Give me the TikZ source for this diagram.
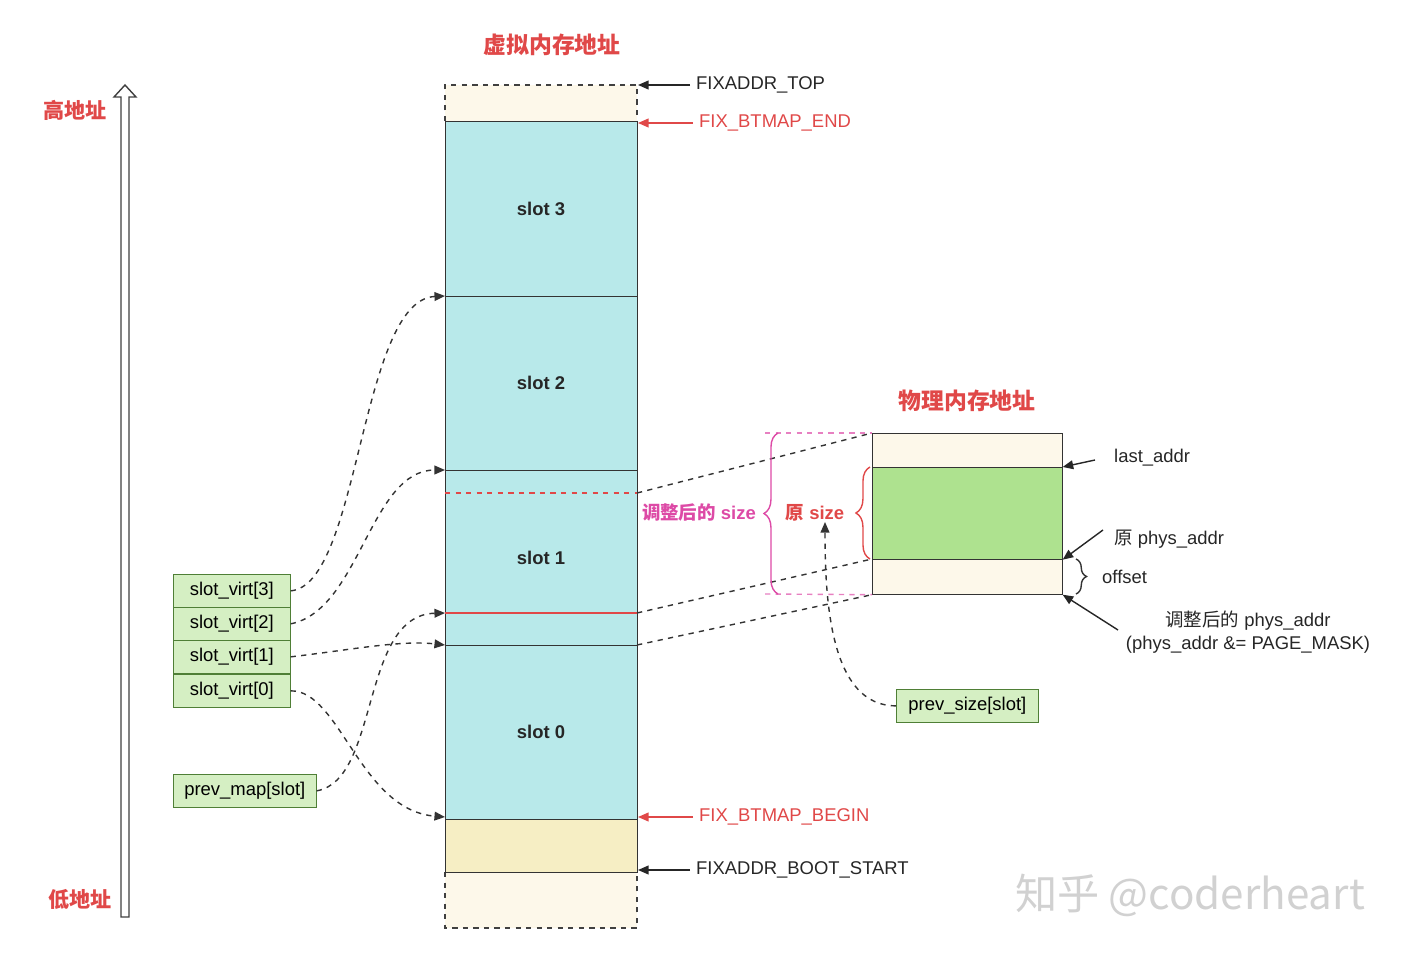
\documentclass[tikz,border=0pt]{standalone}
\usepackage{fontspec}
\setmainfont{Liberation Sans}
\newfontfamily\cjk{Noto Sans CJK SC}
\usetikzlibrary{arrows.meta,decorations.pathreplacing}
\definecolor{cyanf}{HTML}{B8E9EA}
\definecolor{creamf}{HTML}{FDF8EA}
\definecolor{yelf}{HTML}{F6EEC4}
\definecolor{greenf}{HTML}{AEE28F}
\definecolor{lgreen}{HTML}{D5EFC3}
\definecolor{dgreen}{HTML}{4F7F36}
\definecolor{redc}{HTML}{E04848}
\definecolor{pinkc}{HTML}{DD4AA6}
\tikzset{
  lbl/.style={font=\fontsize{10.5}{13}\selectfont, text=black!85},
  bl/.style={font=\fontsize{10.5}{13}\selectfont\bfseries, text=black!85},
  ttl/.style={font=\fontsize{13}{15}\selectfont\cjk\bfseries, text=redc},
  sbox/.style={draw=dgreen, fill=lgreen, minimum height=0.66cm, inner sep=0pt, font=\fontsize{10.5}{13}\selectfont},
  ptr/.style={-{Triangle[length=6pt,width=5pt]}, thick, black!85},
  rptr/.style={-{Triangle[length=6pt,width=5pt]}, thick, redc},
  link/.style={dashed, thick, black!80, -{Triangle[length=6pt,width=5pt]}},
}
\begin{document}
\begin{tikzpicture}[x=0.02cm,y=-0.02cm]
\useasboundingbox (0,0) rectangle (1401,953);
% virtual column
\fill[creamf] (445,85) rectangle (637,121);
\draw[dashed, thick, black!75] (445,121) -- (445,85) -- (637,85) -- (637,121);
\fill[creamf] (445,872) rectangle (637,928);
\draw[dashed, thick, black!75] (445,872) -- (445,928) -- (637,928) -- (637,872);
\node[draw=black!80, fill=cyanf, minimum width=3.84cm, minimum height=3.5cm, anchor=north west, inner sep=0pt] (s3) at (445,121) {};
\node[draw=black!80, fill=cyanf, minimum width=3.84cm, minimum height=3.48cm, anchor=north west, inner sep=0pt] (s2) at (445,296) {};
\node[draw=black!80, fill=cyanf, minimum width=3.84cm, minimum height=3.5cm, anchor=north west, inner sep=0pt] (s1) at (445,470) {};
\node[draw=black!80, fill=cyanf, minimum width=3.84cm, minimum height=3.48cm, anchor=north west, inner sep=0pt] (s0) at (445,645) {};
\node[draw=black!80, fill=yelf, minimum width=3.84cm, minimum height=1.06cm, anchor=north west, inner sep=0pt] (fb) at (445,819) {};
\node[bl] at (541,209) {slot 3};
\node[bl] at (541,383) {slot 2};
\node[bl] at (541,558) {slot 1};
\node[bl] at (541,732) {slot 0};
\draw[redc, thick, dashed] (445,493) -- (637,493);
\draw[redc, thick] (445,613) -- (637,613);
\coordinate (c1) at (637,493);
\coordinate (c2) at (637,613);
\coordinate (c3) at (637,645);
\coordinate (m3) at (445,296);
\coordinate (m2) at (445,470);
\coordinate (m1) at (445,645);
\coordinate (m0) at (445,817);
\coordinate (mp) at (445,613);
\node[ttl] at (552,45) {虚拟内存地址};
% right labels
\node[lbl, anchor=west] (t1) at (690,85) {FIXADDR\_TOP};
\node[lbl, anchor=west, text=redc] (t2) at (693,123) {FIX\_BTMAP\_END};
\node[lbl, anchor=west, text=redc] (t3) at (693,817) {FIX\_BTMAP\_BEGIN};
\node[lbl, anchor=west] (t4) at (690,870) {FIXADDR\_BOOT\_START};
\draw[ptr] (t1.west) -- (638,85);
\draw[rptr] (t2.west) -- (638,123);
\draw[rptr] (t3.west) -- (638,817);
\draw[ptr] (t4.west) -- (638,870);
% hollow arrow
\draw[thick, black!75, fill=white] (121,917) -- (121,97) -- (114,97) -- (125,85) -- (136,97) -- (129,97) -- (129,917) -- cycle;
\node[ttl, font=\fontsize{12}{14}\selectfont\cjk\bfseries] at (75,110) {高地址};
\node[ttl, font=\fontsize{12}{14}\selectfont\cjk\bfseries] at (80,900) {低地址};
% small boxes
\node[sbox, minimum width=2.34cm, anchor=north west] (v3) at (173,574) {slot\_virt[3]};
\node[sbox, minimum width=2.34cm, anchor=north west] (v2) at (173,607) {slot\_virt[2]};
\node[sbox, minimum width=2.34cm, anchor=north west] (v1) at (173,640) {slot\_virt[1]};
\node[sbox, minimum width=2.34cm, anchor=north west] (v0) at (173,674) {slot\_virt[0]};
\node[sbox, minimum width=2.86cm, anchor=north west] (pm) at (173,774) {prev\_map[slot]};
\node[sbox, minimum width=2.84cm, anchor=north west] (ps) at (896,689) {prev\_size[slot]};
\draw[link] (v3.east) .. controls (360,585) and (360,300) .. (m3);
\draw[link] (v2.east) .. controls (360,610) and (370,470) .. (m2);
\draw[link] (v1.east) .. controls (350,650) and (400,640) .. (m1);
\draw[link] (v0.east) .. controls (340,690) and (360,810) .. (m0);
\draw[link] (pm.east) .. controls (380,780) and (360,615) .. (mp);
% physical
\node[ttl] at (967,401) {物理内存地址};
\node[draw=black!80, fill=creamf, minimum width=3.8cm, minimum height=0.68cm, anchor=north west, inner sep=0pt] (pt) at (872,433) {};
\node[draw=black!80, fill=greenf, minimum width=3.8cm, minimum height=1.84cm, anchor=north west, inner sep=0pt] (pg) at (872,467) {};
\node[draw=black!80, fill=creamf, minimum width=3.8cm, minimum height=0.7cm, anchor=north west, inner sep=0pt] (pb) at (872,559) {};
\draw[dashed, thick, black!80] (c1) -- (pt.north west);
\draw[dashed, thick, black!80] (c2) -- (pb.north west);
\draw[dashed, thick, black!80] (c3) -- (pb.south west);
\draw[dashed, thick, pinkc!70] (765,433) -- (pt.north west);
\draw[dashed, thick, pinkc!70] (765,594) -- (pb.south west);
\draw[pinkc, thick, decorate, decoration={brace, amplitude=8pt}] (778,594) -- (778,433);
\draw[redc, thick, decorate, decoration={brace, amplitude=8pt}] (870,559) -- (870,467);
\node[lbl, text=pinkc, font=\fontsize{10.5}{13}\selectfont\bfseries, anchor=east] at (762,513) {{\cjk 调整后的} size};
\node[lbl, text=redc, font=\fontsize{10.5}{13}\selectfont\bfseries] at (815,513) {{\cjk 原} size};
\draw[link] (ps.west) .. controls (830,706) and (825,600) .. (825,522);
\node[lbl, anchor=west] (la) at (1108,458) {last\_addr};
\node[lbl, anchor=west] (pa) at (1108,539) {{\cjk 原} phys\_addr};
\node[lbl, anchor=west] (of) at (1096,577) {offset};
\node[lbl, align=center] (ap) at (1248,632) {{\cjk 调整后的} phys\_addr\\(phys\_addr \&= PAGE\_MASK)};
\draw[ptr] (1095,460) -- (pg.north east);
\draw[ptr] (1103,530) -- (pg.south east);
\draw[ptr] (1118,630) -- (pb.south east);
\draw[thick, black!80, decorate, decoration={brace, amplitude=6pt}] (1076,559) -- (1076,594);
\node[font=\fontsize{24}{28}\selectfont\cjk, text=black!18] at (1190,895) {知乎 @coderheart};
\end{tikzpicture}
\end{document}
